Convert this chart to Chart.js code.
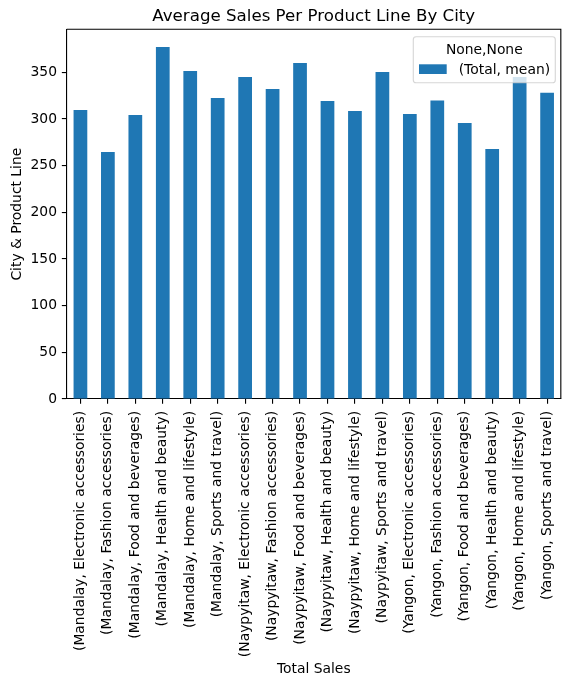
<!DOCTYPE html>
<html>
<head>
<meta charset="utf-8">
<script src="https://cdn.jsdelivr.net/npm/chart.js@4.4.0/dist/chart.umd.min.js"></script>
<style>
html,body{margin:0;padding:0;background:#fff;}
#wrap{width:571px;height:685px;position:relative;}
</style>
</head>
<body>
<div id="wrap"><canvas id="c" width="571" height="685"></canvas></div>
<script>
const categories = [
  "(Mandalay, Electronic accessories)",
  "(Mandalay, Fashion accessories)",
  "(Mandalay, Food and beverages)",
  "(Mandalay, Health and beauty)",
  "(Mandalay, Home and lifestyle)",
  "(Mandalay, Sports and travel)",
  "(Naypyitaw, Electronic accessories)",
  "(Naypyitaw, Fashion accessories)",
  "(Naypyitaw, Food and beverages)",
  "(Naypyitaw, Health and beauty)",
  "(Naypyitaw, Home and lifestyle)",
  "(Naypyitaw, Sports and travel)",
  "(Yangon, Electronic accessories)",
  "(Yangon, Fashion accessories)",
  "(Yangon, Food and beverages)",
  "(Yangon, Health and beauty)",
  "(Yangon, Home and lifestyle)",
  "(Yangon, Sports and travel)"
];
const totalMean = [309.6, 264.6, 304.3, 377.2, 351.4, 322.5, 345.0, 332.2, 360.0, 319.3, 308.5, 350.3, 305.4, 319.7, 295.7, 267.8, 345.0, 328.0];
const yTicks = [0, 50, 100, 150, 200, 250, 300, 350];
const titleText = "Average Sales Per Product Line By City";
const xTitle = "Total Sales";
const yTitle = "City & Product Line";
const legendTitle = "None,None";
const seriesName = "(Total, mean)";

const FONT = "'DejaVu Sans', sans-serif";
const FS = 13.89;
const BLUE = "#1f77b4";
const PLOT = {left: 66.7, right: 562.7, top: 29.3, bottom: 399};

const overlay = {
  id: 'overlay',
  afterDatasetsDraw(chart) {
    const ctx = chart.ctx;
    const a = chart.chartArea;
    ctx.save();
    ctx.strokeStyle = '#000';
    ctx.lineWidth = 1.11;
    ctx.beginPath();
    ctx.moveTo(a.left, a.top); ctx.lineTo(a.right, a.top); ctx.lineTo(a.right, a.bottom);
    ctx.stroke();
    const lx = 413.3, ly = 36.7, lw = 142, lh = 46, r = 2.8;
    ctx.globalAlpha = 0.8;
    ctx.beginPath();
    ctx.moveTo(lx + r, ly);
    ctx.lineTo(lx + lw - r, ly); ctx.arcTo(lx + lw, ly, lx + lw, ly + r, r);
    ctx.lineTo(lx + lw, ly + lh - r); ctx.arcTo(lx + lw, ly + lh, lx + lw - r, ly + lh, r);
    ctx.lineTo(lx + r, ly + lh); ctx.arcTo(lx, ly + lh, lx, ly + lh - r, r);
    ctx.lineTo(lx, ly + r); ctx.arcTo(lx, ly, lx + r, ly, r);
    ctx.closePath();
    ctx.fillStyle = '#ffffff';
    ctx.fill();
    ctx.strokeStyle = '#cccccc';
    ctx.lineWidth = 1.11;
    ctx.stroke();
    ctx.globalAlpha = 1;
    ctx.fillStyle = BLUE;
    ctx.fillRect(419, 64.3, 27.7, 9.7);
    ctx.fillStyle = '#000';
    ctx.font = FS + "px " + FONT;
    ctx.textBaseline = 'alphabetic';
    ctx.textAlign = 'center';
    ctx.fillText(legendTitle, 484.3, 54);
    ctx.textAlign = 'left';
    ctx.fillText(seriesName, 458.7, 74);
    ctx.restore();
  },
  afterDraw(chart) {
    const ctx = chart.ctx;
    const a = chart.chartArea;
    ctx.save();
    ctx.fillStyle = '#000';
    ctx.textBaseline = 'alphabetic';
    ctx.textAlign = 'center';
    ctx.font = "16.67px " + FONT;
    ctx.fillText(titleText, (a.left + a.right) / 2, 21.3);
    ctx.font = FS + "px " + FONT;
    ctx.fillText(xTitle, (a.left + a.right) / 2, 673.3);
    ctx.translate(21, (a.top + a.bottom) / 2);
    ctx.rotate(-Math.PI / 2);
    ctx.fillText(yTitle, 0, 0);
    ctx.restore();
  }
};

new Chart(document.getElementById('c'), {
  type: 'bar',
  data: {
    labels: categories,
    datasets: [{
      label: seriesName,
      data: totalMean,
      backgroundColor: BLUE,
      borderWidth: 0,
      barPercentage: 0.5,
      categoryPercentage: 1.0
    }]
  },
  options: {
    responsive: false,
    animation: false,
    devicePixelRatio: 1,
    layout: {padding: {left: 0, right: 571 - PLOT.right, top: PLOT.top, bottom: 0}},
    plugins: {legend: {display: false}, title: {display: false}, tooltip: {enabled: false}},
    scales: {
      x: {
        type: 'category',
        offset: true,
        grid: {display: true, offset: false, drawOnChartArea: false, drawTicks: true, tickLength: 4.86, color: '#000', lineWidth: 1.11},
        border: {display: true, color: '#000', width: 1.11},
        ticks: {
          autoSkip: false, maxRotation: 90, minRotation: 90, padding: 7,
          color: '#000', font: {family: FONT, size: FS}
        },
        afterFit(s) { s.height = 685 - PLOT.bottom; }
      },
      y: {
        min: 0, max: 396.1,
        grid: {display: true, drawOnChartArea: false, drawTicks: true, tickLength: 4.86, color: '#000', lineWidth: 1.11},
        border: {display: true, color: '#000', width: 1.11},
        afterBuildTicks(s) { s.ticks = yTicks.map(v => ({value: v})); },
        ticks: {
          includeBounds: false, padding: 4.86,
          color: '#000', font: {family: FONT, size: FS},
          callback: v => String(v)
        },
        afterFit(s) { s.width = PLOT.left; }
      }
    }
  },
  plugins: [overlay]
});
</script>
</body>
</html>
